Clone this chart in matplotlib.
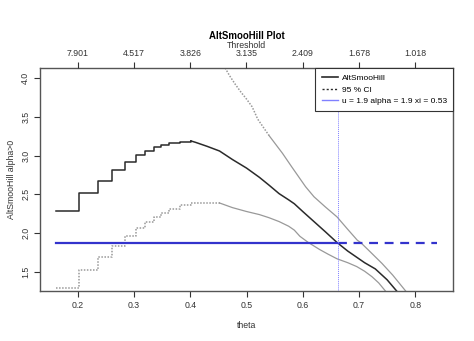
import matplotlib
matplotlib.use("Agg")
import matplotlib.pyplot as plt
from matplotlib.lines import Line2D

plt.rcParams['font.family'] = ['Liberation Sans', 'DejaVu Sans']

# estimate (step part then smooth part)
est_step_theta = [0.161, 0.2023, 0.2354, 0.261, 0.2837, 0.303, 0.3204, 0.3355, 0.348, 0.363, 0.381, 0.401]
est_step_val = [2.29, 2.52, 2.67, 2.82, 2.92, 3.01, 3.06, 3.11, 3.14, 3.16, 3.175, 3.19]
est_theta = [0.401, 0.41, 0.43, 0.452, 0.475, 0.50, 0.523, 0.54, 0.558, 0.575, 0.585, 0.60,
             0.62, 0.64, 0.661, 0.68, 0.696, 0.71, 0.729, 0.75, 0.767]
est_val = [3.19, 3.17, 3.12, 3.06, 2.95, 2.84, 2.72, 2.62, 2.51, 2.43, 2.38, 2.28,
           2.15, 2.02, 1.88, 1.77, 1.69, 1.62, 1.54, 1.40, 1.255]

# lower 95% CI
lo_step_theta = [0.161, 0.2023, 0.2354, 0.261, 0.2837, 0.303, 0.3204, 0.3355, 0.348, 0.363, 0.381, 0.401, 0.452]
lo_step_val = [1.29, 1.53, 1.69, 1.84, 1.96, 2.07, 2.15, 2.21, 2.26, 2.31, 2.36, 2.39, 2.39]
lo_theta = [0.452, 0.475, 0.50, 0.523, 0.54, 0.558, 0.575, 0.585, 0.595, 0.61, 0.63, 0.645,
            0.661, 0.68, 0.696, 0.71, 0.723, 0.735, 0.747]
lo_val = [2.39, 2.33, 2.28, 2.24, 2.20, 2.15, 2.09, 2.04, 1.96, 1.88, 1.79, 1.73,
          1.67, 1.62, 1.57, 1.51, 1.44, 1.36, 1.255]

# upper 95% CI
up_theta = [0.462, 0.47, 0.48, 0.49, 0.50, 0.51, 0.52, 0.54, 0.564, 0.58, 0.605, 0.62, 0.64,
            0.661, 0.68, 0.697, 0.703, 0.72, 0.741, 0.76, 0.783]
up_val = [4.13, 4.03, 3.92, 3.82, 3.73, 3.63, 3.47, 3.26, 3.03, 2.86, 2.60, 2.47, 2.34,
          2.21, 2.05, 1.91, 1.88, 1.76, 1.61, 1.46, 1.255]

u_theta = 0.663
alpha_hat = 1.88
theta_end = 0.838
theta_start = 0.161

top_ticks = [0.2, 0.3, 0.4, 0.5, 0.6, 0.7, 0.8]
top_labels = ["7.901", "4.517", "3.826", "3.135", "2.409", "1.678", "1.018"]

W, H = 474, 341
fig = plt.figure(figsize=(W / 100, H / 100), dpi=100)
L, R, T, B = 40, 453, 68, 291
ax = fig.add_axes([L / W, 1 - B / H, (R - L) / W, (B - T) / H])

est_col = "#2a2a2a"
ci_col = "#999999"
blue = "#3333cc"
txt = "#333333"
fs = 6.3

ax.plot(est_step_theta, est_step_val, color=est_col, lw=1.1, drawstyle="steps-post")
ax.plot(est_theta, est_val, color=est_col, lw=1.1)
ax.plot(lo_step_theta, lo_step_val, color=ci_col, lw=1.1, ls=(0, (1, 1)), drawstyle="steps-post")
ax.plot(lo_theta, lo_val, color=ci_col, lw=0.9)
ax.plot(up_theta[:8], up_val[:8], color=ci_col, lw=1.1, ls=(0, (1, 1)))
ax.plot(up_theta[7:], up_val[7:], color=ci_col, lw=0.9)

ax.plot([theta_start, u_theta], [alpha_hat, alpha_hat], color=blue, lw=1.6)
ax.plot([u_theta, theta_end], [alpha_hat, alpha_hat], color=blue, lw=1.6, ls=(0, (4, 3)))
ax.axvline(u_theta, color="#8080ff", lw=0.7, ls=(0, (1, 1)))

ax.set_xlim(0.1328, 0.8672)
ax.set_ylim(1.255, 4.13)
ax.set_xticks(top_ticks)
ax.set_yticks([1.5, 2.0, 2.5, 3.0, 3.5, 4.0])
ax.set_yticklabels(["1.5", "2.0", "2.5", "3.0", "3.5", "4.0"], rotation=90, va="center")
ax.tick_params(direction="out", length=4, width=0.8, labelsize=fs, colors=txt, pad=3)
for s in ax.spines.values():
    s.set_color("#555555")
    s.set_linewidth(1.0)

ax2 = ax.twiny()
ax2.set_xlim(ax.get_xlim())
ax2.set_xticks(top_ticks)
ax2.set_xticklabels(top_labels)
ax2.tick_params(direction="out", length=4, width=0.8, labelsize=fs, colors=txt, pad=3)
for s in ax2.spines.values():
    s.set_visible(False)

cx = (L + R) / 2 / W
fig.text(cx, 1 - 36 / H, "AltSmooHill Plot", ha="center", va="center",
         fontsize=6.9, fontweight="bold")
fig.text(cx, 1 - 45.5 / H, "Threshold", ha="center", va="center", fontsize=fs, color=txt)
fig.text(cx, 1 - 325 / H, "theta", ha="center", va="center", fontsize=fs, color=txt)
fig.text(11.7 / W, 1 - (T + B) / 2 / H, "AltSmooHill alpha>0", ha="center", va="center",
         rotation=90, fontsize=fs, color=txt)

handles = [Line2D([], [], color=est_col, lw=1.2),
           Line2D([], [], color=est_col, lw=1.0, ls=(0, (1.5, 1.5))),
           Line2D([], [], color="#8080ff", lw=1.0)]
labels = ["AltSmooHill", "95 % CI", "u = 1.9 alpha = 1.9 xi = 0.53"]
leg = ax.legend(handles, labels, loc="upper right", fontsize=6.0, fancybox=False,
                framealpha=1, edgecolor="#333333", borderaxespad=0, handlelength=2.0,
                handletextpad=0.4, labelspacing=0.45, borderpad=0.75)
leg.get_frame().set_linewidth(0.8)

fig.savefig("out.png", dpi=100)
